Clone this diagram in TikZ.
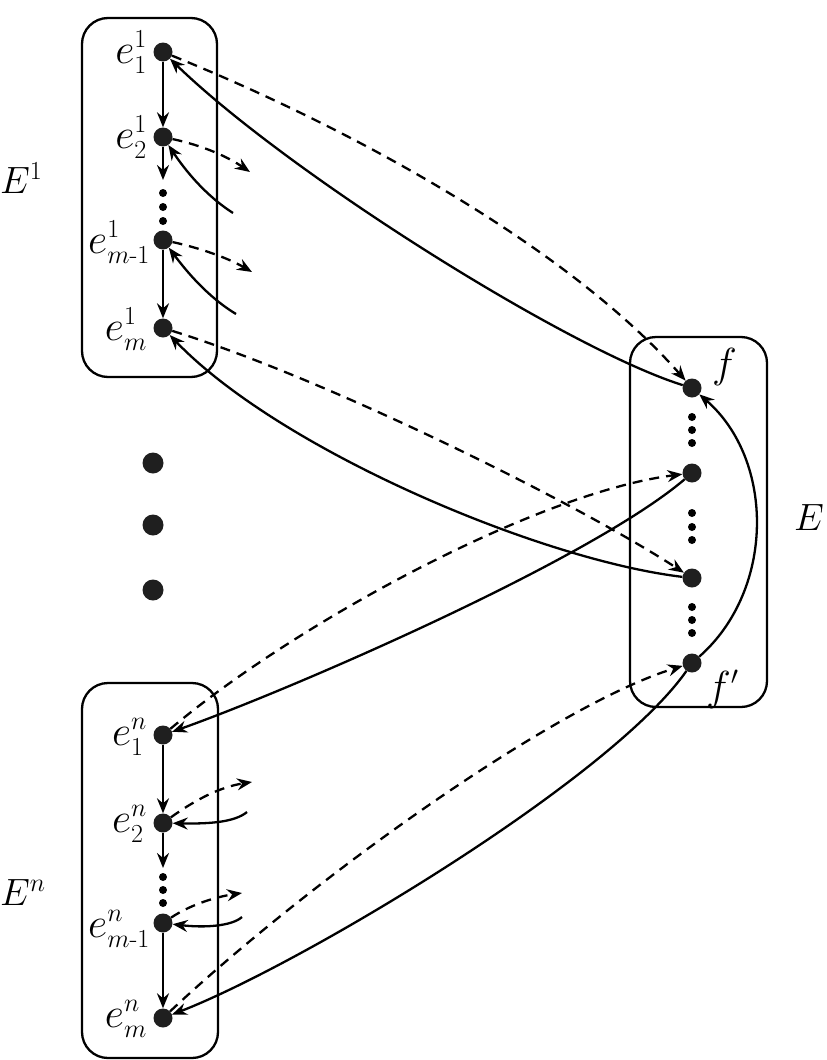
\RequirePackage{fix-cm}
\documentclass[tikz,border=0pt]{standalone}
\usepackage{amsmath}
\usetikzlibrary{arrows.meta}
\DeclareMathSizes{42}{42}{26}{20}
\DeclareMathSizes{38}{38}{26}{20}
\begin{document}
\begin{tikzpicture}[x=1pt,y=-1pt,
  edot/.style={circle,fill=black!88,draw=none,minimum size=19pt,inner sep=0pt},
  sdot/.style={circle,fill=black,draw=none,minimum size=8pt,inner sep=0pt},
  bdot/.style={circle,fill=black!88,draw=none,minimum size=21pt,inner sep=0pt},
  grp/.style={draw,line width=2.3pt,rounded corners=26pt,inner sep=0pt},
  lbl/.style={font=\fontsize{42}{50}\selectfont,inner sep=0pt},
  glbl/.style={font=\fontsize{38}{44}\selectfont,inner sep=0pt},
  con/.style={line width=2.3pt,-{Stealth[length=15pt,width=12pt,inset=5pt]}},
  dcon/.style={con,dash pattern=on 10pt off 7pt},
]
\useasboundingbox (0,0) rectangle (827,1060);
% boxes
\node[grp,minimum width=135pt,minimum height=359pt] (B1) at (149.5,197.5) {};
\node[grp,minimum width=136pt,minimum height=375pt] (Bn) at (150,870.5) {};
\node[grp,minimum width=137pt,minimum height=370pt] (BE) at (698.5,522) {};
% group 1
\node[edot] (a1) at (163,52) {};
\node[edot] (a2) at (163,137) {};
\node[sdot] (sa1) at (163,193) {};
\node[sdot] (sa2d) at (163,207) {};
\node[sdot] (sa3d) at (163,221) {};
\node[edot] (a3) at (163,240) {};
\node[edot] (a4) at (163,328) {};
\node[lbl,anchor=base east] (la1) at (147,63) {$e^1_1$};
\node[lbl,anchor=base east] (la2) at (147,148) {$e^1_2$};
\node[lbl,anchor=base east] (la3) at (150,253) {$e^1_{m\text{-}1}$};
\node[lbl,anchor=base east] (la4) at (147,340) {$e^1_m$};
% middle dots
\node[bdot] (m1) at (153,463) {};
\node[bdot] (m2) at (153,525) {};
\node[bdot] (m3) at (153,590) {};
% group n
\node[edot] (b1) at (163,735) {};
\node[edot] (b2) at (163,823) {};
\node[sdot] (sb1d) at (163,877) {};
\node[sdot] (sb2d) at (163,890) {};
\node[sdot] (sb3d) at (163,903) {};
\node[edot] (b3) at (163,923) {};
\node[edot] (b4) at (163,1018) {};
\node[lbl,anchor=base east] (lb1) at (147,745) {$e^n_1$};
\node[lbl,anchor=base east] (lb2) at (147,832) {$e^n_2$};
\node[lbl,anchor=base east] (lb3) at (150,937) {$e^n_{m\text{-}1}$};
\node[lbl,anchor=base east] (lb4) at (147,1027) {$e^n_m$};
% right group
\node[edot] (f) at (692,388) {};
\node[sdot] (r1a) at (692,417) {};
\node[sdot] (r1b) at (692,430) {};
\node[sdot] (r1c) at (692,443) {};
\node[edot] (r2) at (692,473) {};
\node[sdot] (r2a) at (692,513) {};
\node[sdot] (r2b) at (692,527) {};
\node[sdot] (r2c) at (692,540) {};
\node[edot] (r3) at (692,578) {};
\node[sdot] (r3a) at (692,607) {};
\node[sdot] (r3b) at (692,620) {};
\node[sdot] (r3c) at (692,633) {};
\node[edot] (r4) at (692,663) {};
% labels
\node[glbl,anchor=base west] (lE1) at (0,193) {$E^1$};
\node[glbl,anchor=base west] (lEn) at (0,905) {$E^n$};
\node[glbl,anchor=base west] (lE) at (794,530) {$E$};
\node[lbl,anchor=base west] (lf) at (712,377) {$f$};
\node[lbl,anchor=base west] (lfp) at (706,700) {$f'$};
% free ends
\coordinate (ta2) at (250,172);
\coordinate (sa2) at (233,213);
\coordinate (ta3) at (252,272);
\coordinate (sa3) at (236,314);
\coordinate (va2) at (163,180);
\coordinate (tb2) at (252,782);
\coordinate (sb2) at (247,812);
\coordinate (tb3) at (242,893);
\coordinate (sb3) at (242,917);
\coordinate (vb2) at (163,868);
% group 1 connectors
\draw[con] (a1) -- (a2);
\draw[con] (a2) -- (va2);
\draw[con] (a3) -- (a4);
\draw[dcon] (a1) .. controls (380,140) and (580,260) .. (f);
\draw[con] (f) .. controls (570,350) and (290,175) .. (a1);
\draw[dcon] (a2) .. controls (200,145) and (225,155) .. (ta2);
\draw[con] (sa2) .. controls (205,195) and (185,170) .. (a2);
\draw[dcon] (a3) .. controls (200,248) and (228,258) .. (ta3);
\draw[con] (sa3) .. controls (208,297) and (187,272) .. (a3);
\draw[dcon] (a4) .. controls (330,380) and (580,505) .. (r3);
\draw[con] (r3) .. controls (540,560) and (280,450) .. (a4);
% group n connectors
\draw[con] (b1) -- (b2);
\draw[con] (b2) -- (vb2);
\draw[con] (b3) -- (b4);
\draw[dcon] (b1) .. controls (300,620) and (540,492) .. (r2);
\draw[con] (r2) .. controls (590,560) and (290,690) .. (b1);
\draw[dcon] (b2) .. controls (195,800) and (220,787) .. (tb2);
\draw[con] (sb2) .. controls (235,822) and (210,824) .. (b2);
\draw[dcon] (b3) .. controls (190,905) and (215,897) .. (tb3);
\draw[con] (sb3) .. controls (232,926) and (205,928) .. (b3);
\draw[dcon] (b4) .. controls (310,880) and (555,705) .. (r4);
\draw[con] (r4) .. controls (610,780) and (300,965) .. (b4);
% right arc
\draw[con] (r4) .. controls (775,590) and (775,460) .. (f);
\end{tikzpicture}
\end{document}
